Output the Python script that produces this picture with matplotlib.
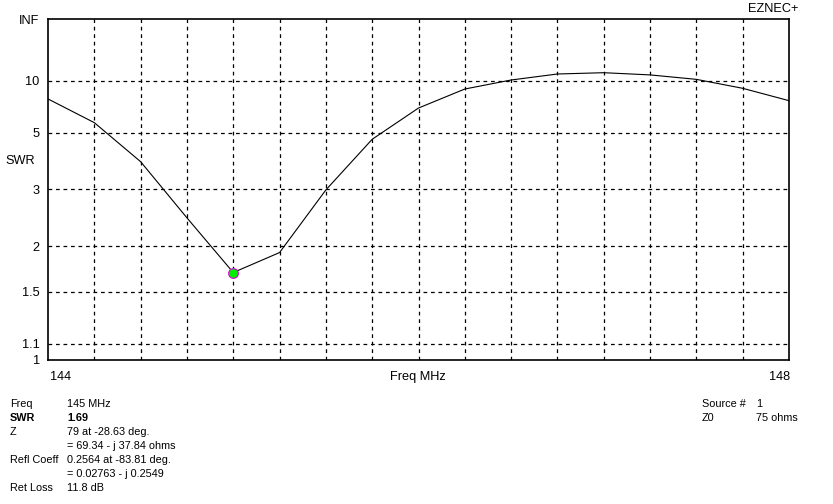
import matplotlib
matplotlib.use("Agg")
import matplotlib.pyplot as plt
import numpy as np

plt.rcParams['font.family'] = ['Liberation Sans', 'DejaVu Sans']

##### Data #####
freq_mhz = [144.0, 144.25, 144.5, 144.75, 145.0, 145.25, 145.5, 145.75, 146.0,
            146.25, 146.5, 146.75, 147.0, 147.25, 147.5, 147.75, 148.0]
swr = [7.53, 5.58, 3.78, 2.43, 1.69, 1.92, 2.99, 4.67, 6.66,
       8.74, 10.18, 11.4, 11.7, 11.2, 10.3, 8.84, 7.35]

marker_freq = 145.0
marker_swr = 1.69

swr_ticks = [1, 1.1, 1.5, 2, 3, 5, 10]
swr_tick_labels = ["1", "1.1", "1.5", "2", "3", "5", "10"]
SWR_INF = 1e12  # stands in for infinity at the top of the scale

info_left = [("Freq", "145 MHz"), ("SWR", "1.69"), ("Z", "79 at -28.63 deg."),
             ("", "= 69.34 - j 37.84 ohms"), ("Refl Coeff", "0.2564 at -83.81 deg."),
             ("", "= 0.02763 - j 0.2549"), ("Ret Loss", "11.8 dB")]
info_right = [("Source #", "1"), ("Z0", "75 ohms")]


# SWR axis is linear in reflection coefficient
def swr_to_rho(s):
    s = np.asarray(s, dtype=float)
    return (s - 1.0) / (s + 1.0)


def rho_to_swr(r):
    r = np.asarray(r, dtype=float)
    with np.errstate(divide='ignore', invalid='ignore'):
        return (1.0 + r) / (1.0 - r)


fig = plt.figure(figsize=(8.33, 5.04), dpi=100)
ax = fig.add_axes([48/833, 1-360/504, (789-48)/833, (360-19)/504])

ax.set_yscale('function', functions=(swr_to_rho, rho_to_swr))
ax.set_xlim(144, 148)
ax.set_ylim(1, SWR_INF)

# grid
for f in np.arange(144.25, 148.0, 0.25):
    ax.axvline(f, color='black', lw=0.9, ls=(0, (3, 3)), zorder=1)
for s in swr_ticks[1:]:
    ax.axhline(s, color='black', lw=0.9, ls=(0, (3, 3)), zorder=1)

ax.plot(freq_mhz, swr, color='black', lw=0.8, zorder=3)
ax.plot([marker_freq], [marker_swr], marker='o', ms=7, mfc='#00ee00',
        mec='#e000e0', mew=0.8, ls='none', zorder=4)

ax.set_yticks(swr_ticks + [SWR_INF])
ax.set_yticklabels(swr_tick_labels + ["INF"], fontsize=9.2)
ax.set_xticks([])
ax.tick_params(axis='y', length=0, pad=6)
for sp in ax.spines.values():
    sp.set_linewidth(1.2)

fig.text(5/833, 1-161/504, "SWR", fontsize=9.2, va='center', ha='left')
fig.text(50/833, 1-377/504, "144", fontsize=9.2, va='center', ha='left')
fig.text(790/833, 1-377/504, "148", fontsize=9.2, va='center', ha='right')
fig.text(418/833, 1-377/504, "Freq MHz", fontsize=9.2, va='center', ha='center')
fig.text(798/833, 1-9/504, "EZNEC+", fontsize=9.2, va='center', ha='right')

for i, (lab, val) in enumerate(info_left):
    y = 1 - (404 + 14*i)/504
    w = 'bold' if lab == "SWR" else 'normal'
    fig.text(10/833, y, lab, fontsize=7.85, va='center', ha='left', weight=w)
    fig.text(67/833, y, val, fontsize=7.85, va='center', ha='left', weight=w)
for i, (lab, val) in enumerate(info_right):
    y = 1 - (404 + 14*i)/504
    fig.text(702/833, y, lab, fontsize=7.85, va='center', ha='left')
    fig.text(756/833, y, val, fontsize=7.85, va='center', ha='left')

fig.savefig("out.png", dpi=100)
